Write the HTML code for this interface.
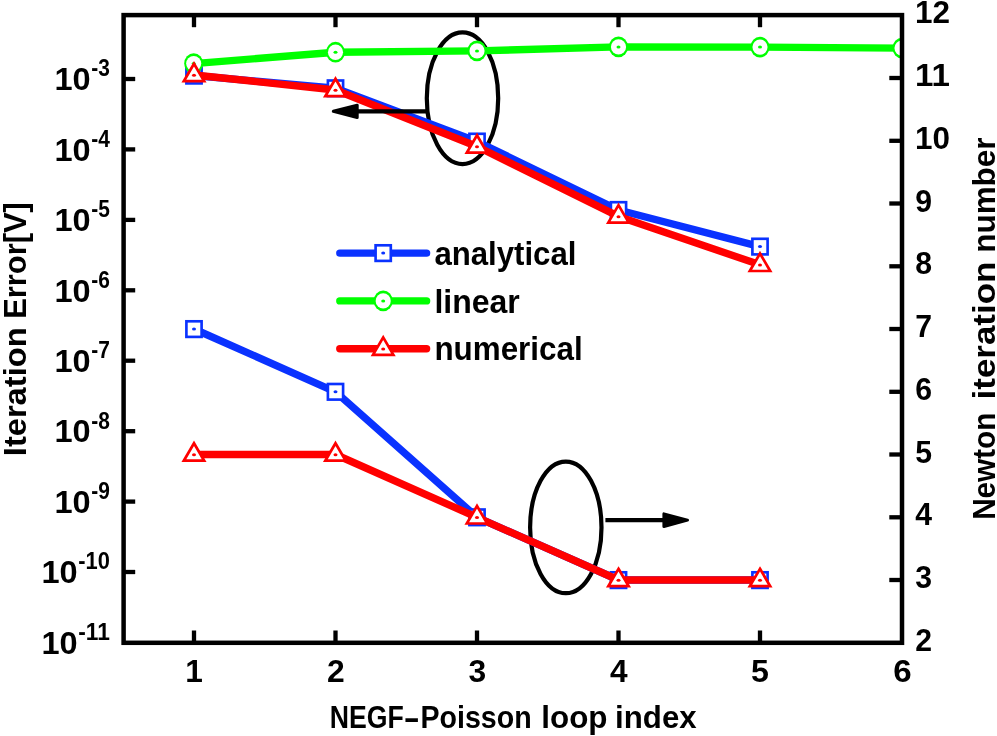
<!DOCTYPE html>
<html lang="en"><head><meta charset="utf-8"><title>Iteration error vs NEGF-Poisson loop index</title>
<style>html,body{margin:0;padding:0;background:#fff}svg{display:block}</style></head>
<body>
<svg width="997" height="736" viewBox="0 0 997 736">
<rect width="997" height="736" fill="#fff"/>
<g fill="none" stroke="#000" stroke-width="4.2">
<ellipse cx="462.5" cy="98.25" rx="35.7" ry="65.85"/>
<ellipse cx="565.8" cy="527.4" rx="35.7" ry="65.8"/>
</g>
<clipPath id="c"><rect x="123.6" y="15.1" width="778.4" height="627.6999999999999"/></clipPath>
<g clip-path="url(#c)">
<polyline points="194.0,75.5 335.5,88.3 477.0,141.5 618.5,210.0 760.0,246.6" fill="none" stroke="#0a32ff" stroke-width="7.4" stroke-linejoin="round" stroke-linecap="butt"/>
<rect x="186.4" y="67.8" width="15.2" height="15.6" fill="#fff" stroke="#0a32ff" stroke-width="2.65"/><ellipse cx="194.0" cy="75.5" rx="2" ry="1.5" fill="#0a32ff"/>
<rect x="327.9" y="80.5" width="15.2" height="15.6" fill="#fff" stroke="#0a32ff" stroke-width="2.65"/><ellipse cx="335.5" cy="88.3" rx="2" ry="1.5" fill="#0a32ff"/>
<rect x="469.4" y="133.8" width="15.2" height="15.6" fill="#fff" stroke="#0a32ff" stroke-width="2.65"/><ellipse cx="477.0" cy="141.5" rx="2" ry="1.5" fill="#0a32ff"/>
<rect x="610.9" y="202.2" width="15.2" height="15.6" fill="#fff" stroke="#0a32ff" stroke-width="2.65"/><ellipse cx="618.5" cy="210.0" rx="2" ry="1.5" fill="#0a32ff"/>
<rect x="752.4" y="238.8" width="15.2" height="15.6" fill="#fff" stroke="#0a32ff" stroke-width="2.65"/><ellipse cx="760.0" cy="246.6" rx="2" ry="1.5" fill="#0a32ff"/>
<polyline points="193.7,63.6 335.5,52.2 477.0,50.9 618.5,46.9 760.0,47.1 902.0,48.1" fill="none" stroke="#00ff00" stroke-width="7.4" stroke-linejoin="round" stroke-linecap="butt"/>
<ellipse cx="193.7" cy="63.6" rx="9.5" ry="10.35" fill="#00ff00"/><ellipse cx="193.7" cy="63.6" rx="7.55" ry="7.7" fill="#fff"/><ellipse cx="193.7" cy="63.6" rx="2" ry="1.5" fill="#00ff00"/>
<ellipse cx="335.5" cy="52.2" rx="9.5" ry="10.35" fill="#00ff00"/><ellipse cx="335.5" cy="52.2" rx="7.55" ry="7.7" fill="#fff"/><ellipse cx="335.5" cy="52.2" rx="2" ry="1.5" fill="#00ff00"/>
<ellipse cx="477.0" cy="50.9" rx="9.5" ry="10.35" fill="#00ff00"/><ellipse cx="477.0" cy="50.9" rx="7.55" ry="7.7" fill="#fff"/><ellipse cx="477.0" cy="50.9" rx="2" ry="1.5" fill="#00ff00"/>
<ellipse cx="618.5" cy="46.9" rx="9.5" ry="10.35" fill="#00ff00"/><ellipse cx="618.5" cy="46.9" rx="7.55" ry="7.7" fill="#fff"/><ellipse cx="618.5" cy="46.9" rx="2" ry="1.5" fill="#00ff00"/>
<ellipse cx="760.0" cy="47.1" rx="9.5" ry="10.35" fill="#00ff00"/><ellipse cx="760.0" cy="47.1" rx="7.55" ry="7.7" fill="#fff"/><ellipse cx="760.0" cy="47.1" rx="2" ry="1.5" fill="#00ff00"/>
<ellipse cx="902.0" cy="48.1" rx="9.5" ry="10.35" fill="#00ff00"/><ellipse cx="902.0" cy="48.1" rx="7.55" ry="7.7" fill="#fff"/><ellipse cx="902.0" cy="48.1" rx="2" ry="1.5" fill="#00ff00"/>
<polyline points="194.0,75.0 335.5,90.0 477.0,146.5 618.5,216.4 760.0,264.8" fill="none" stroke="#ff0000" stroke-width="7.4" stroke-linejoin="round" stroke-linecap="butt"/>
<path d="M194.0,63.7 L204.2,81.2 L183.8,81.2 Z" fill="#fff" stroke="#ff0000" stroke-width="2.7" stroke-linejoin="miter"/><ellipse cx="194.0" cy="75.3" rx="2" ry="1.5" fill="#ff0000"/>
<path d="M335.5,78.7 L345.7,96.2 L325.3,96.2 Z" fill="#fff" stroke="#ff0000" stroke-width="2.7" stroke-linejoin="miter"/><ellipse cx="335.5" cy="90.3" rx="2" ry="1.5" fill="#ff0000"/>
<path d="M477.0,135.2 L487.2,152.7 L466.8,152.7 Z" fill="#fff" stroke="#ff0000" stroke-width="2.7" stroke-linejoin="miter"/><ellipse cx="477.0" cy="146.8" rx="2" ry="1.5" fill="#ff0000"/>
<path d="M618.5,205.1 L628.7,222.6 L608.3,222.6 Z" fill="#fff" stroke="#ff0000" stroke-width="2.7" stroke-linejoin="miter"/><ellipse cx="618.5" cy="216.7" rx="2" ry="1.5" fill="#ff0000"/>
<path d="M760.0,253.5 L770.2,271.0 L749.8,271.0 Z" fill="#fff" stroke="#ff0000" stroke-width="2.7" stroke-linejoin="miter"/><ellipse cx="760.0" cy="265.1" rx="2" ry="1.5" fill="#ff0000"/>
<polyline points="194.0,329.0 335.5,391.8 477.0,517.3 618.5,580.0 760.0,580.0" fill="none" stroke="#0a32ff" stroke-width="7.4" stroke-linejoin="round" stroke-linecap="butt"/>
<rect x="186.4" y="321.3" width="15.2" height="15.6" fill="#fff" stroke="#0a32ff" stroke-width="2.65"/><ellipse cx="194.0" cy="329.0" rx="2" ry="1.5" fill="#0a32ff"/>
<rect x="327.9" y="384.0" width="15.2" height="15.6" fill="#fff" stroke="#0a32ff" stroke-width="2.65"/><ellipse cx="335.5" cy="391.8" rx="2" ry="1.5" fill="#0a32ff"/>
<rect x="469.4" y="509.5" width="15.2" height="15.6" fill="#fff" stroke="#0a32ff" stroke-width="2.65"/><ellipse cx="477.0" cy="517.3" rx="2" ry="1.5" fill="#0a32ff"/>
<rect x="610.9" y="572.3" width="15.2" height="15.6" fill="#fff" stroke="#0a32ff" stroke-width="2.65"/><ellipse cx="618.5" cy="580.0" rx="2" ry="1.5" fill="#0a32ff"/>
<rect x="752.4" y="572.3" width="15.2" height="15.6" fill="#fff" stroke="#0a32ff" stroke-width="2.65"/><ellipse cx="760.0" cy="580.0" rx="2" ry="1.5" fill="#0a32ff"/>
<polyline points="194.0,454.5 335.5,454.5 477.0,517.3 618.5,580.0 760.0,580.0" fill="none" stroke="#ff0000" stroke-width="7.4" stroke-linejoin="round" stroke-linecap="butt"/>
<path d="M194.0,443.2 L204.2,460.7 L183.8,460.7 Z" fill="#fff" stroke="#ff0000" stroke-width="2.7" stroke-linejoin="miter"/><ellipse cx="194.0" cy="454.8" rx="2" ry="1.5" fill="#ff0000"/>
<path d="M335.5,443.2 L345.7,460.7 L325.3,460.7 Z" fill="#fff" stroke="#ff0000" stroke-width="2.7" stroke-linejoin="miter"/><ellipse cx="335.5" cy="454.8" rx="2" ry="1.5" fill="#ff0000"/>
<path d="M477.0,506.0 L487.2,523.5 L466.8,523.5 Z" fill="#fff" stroke="#ff0000" stroke-width="2.7" stroke-linejoin="miter"/><ellipse cx="477.0" cy="517.6" rx="2" ry="1.5" fill="#ff0000"/>
<path d="M618.5,568.8 L628.7,586.2 L608.3,586.2 Z" fill="#fff" stroke="#ff0000" stroke-width="2.7" stroke-linejoin="miter"/><ellipse cx="618.5" cy="580.3" rx="2" ry="1.5" fill="#ff0000"/>
<path d="M760.0,568.8 L770.2,586.2 L749.8,586.2 Z" fill="#fff" stroke="#ff0000" stroke-width="2.7" stroke-linejoin="miter"/><ellipse cx="760.0" cy="580.3" rx="2" ry="1.5" fill="#ff0000"/>
</g>
<g stroke="#000" fill="#000" stroke-linejoin="round">
<line x1="350" y1="111.3" x2="426" y2="111.3" stroke-width="4.3"/>
<path d="M333.3,111.3 L357.2,105.2 L357.2,117.6 Z" stroke-width="3"/>
<line x1="605.4" y1="520.1" x2="670" y2="520.1" stroke-width="4.2"/>
<path d="M687.5,520.1 L663.9,513.9 L663.9,526.5 Z" stroke-width="3"/>
</g>
<rect x="123.6" y="15.1" width="778.4" height="627.6999999999999" fill="none" stroke="#000" stroke-width="4.5"/>
<g stroke="#000" stroke-width="4.3">
<line x1="194.0" y1="15.1" x2="194.0" y2="27.2"/>
<line x1="194.0" y1="642.8" x2="194.0" y2="630.5"/>
<line x1="335.5" y1="15.1" x2="335.5" y2="27.2"/>
<line x1="335.5" y1="642.8" x2="335.5" y2="630.5"/>
<line x1="477.0" y1="15.1" x2="477.0" y2="27.2"/>
<line x1="477.0" y1="642.8" x2="477.0" y2="630.5"/>
<line x1="618.5" y1="15.1" x2="618.5" y2="27.2"/>
<line x1="618.5" y1="642.8" x2="618.5" y2="630.5"/>
<line x1="760.0" y1="15.1" x2="760.0" y2="27.2"/>
<line x1="760.0" y1="642.8" x2="760.0" y2="630.5"/>
<line x1="123.6" y1="79.0" x2="135.2" y2="79.0"/>
<line x1="123.6" y1="149.4" x2="135.2" y2="149.4"/>
<line x1="123.6" y1="219.9" x2="135.2" y2="219.9"/>
<line x1="123.6" y1="290.3" x2="135.2" y2="290.3"/>
<line x1="123.6" y1="360.7" x2="135.2" y2="360.7"/>
<line x1="123.6" y1="431.2" x2="135.2" y2="431.2"/>
<line x1="123.6" y1="501.6" x2="135.2" y2="501.6"/>
<line x1="123.6" y1="572.0" x2="135.2" y2="572.0"/>
<line x1="902.0" y1="580.0" x2="889.3" y2="580.0"/>
<line x1="902.0" y1="517.3" x2="889.3" y2="517.3"/>
<line x1="902.0" y1="454.5" x2="889.3" y2="454.5"/>
<line x1="902.0" y1="391.8" x2="889.3" y2="391.8"/>
<line x1="902.0" y1="329.0" x2="889.3" y2="329.0"/>
<line x1="902.0" y1="266.3" x2="889.3" y2="266.3"/>
<line x1="902.0" y1="203.5" x2="889.3" y2="203.5"/>
<line x1="902.0" y1="140.8" x2="889.3" y2="140.8"/>
<line x1="902.0" y1="78.0" x2="889.3" y2="78.0"/>
</g>
<g font-family="Liberation Sans, Arial, Helvetica, sans-serif" font-weight="bold" font-size="31" fill="#000">
<text x="194.1" y="681.7" text-anchor="middle" textLength="17.6" lengthAdjust="spacingAndGlyphs">1</text>
<text x="335.8" y="681.7" text-anchor="middle" textLength="17.7" lengthAdjust="spacingAndGlyphs">2</text>
<text x="477.4" y="681.7" text-anchor="middle" textLength="17.7" lengthAdjust="spacingAndGlyphs">3</text>
<text x="618.8" y="681.7" text-anchor="middle" textLength="17.6" lengthAdjust="spacingAndGlyphs">4</text>
<text x="759.9" y="681.7" text-anchor="middle" textLength="17.9" lengthAdjust="spacingAndGlyphs">5</text>
<text x="902.5" y="681.7" text-anchor="middle" textLength="18.4" lengthAdjust="spacingAndGlyphs">6</text>
<text x="915.2" y="650.8" textLength="16.8" lengthAdjust="spacingAndGlyphs">2</text>
<text x="915.2" y="588.0" textLength="16.8" lengthAdjust="spacingAndGlyphs">3</text>
<text x="915.2" y="525.3" textLength="16.8" lengthAdjust="spacingAndGlyphs">4</text>
<text x="915.2" y="462.5" textLength="16.8" lengthAdjust="spacingAndGlyphs">5</text>
<text x="915.2" y="399.8" textLength="16.8" lengthAdjust="spacingAndGlyphs">6</text>
<text x="915.2" y="337.0" textLength="16.8" lengthAdjust="spacingAndGlyphs">7</text>
<text x="915.2" y="274.3" textLength="16.8" lengthAdjust="spacingAndGlyphs">8</text>
<text x="915.2" y="211.5" textLength="16.8" lengthAdjust="spacingAndGlyphs">9</text>
<text x="915.0" y="148.8" textLength="35" lengthAdjust="spacingAndGlyphs">10</text>
<text x="915.0" y="86.0" textLength="35" lengthAdjust="spacingAndGlyphs">11</text>
<text x="915.0" y="23.3" textLength="35" lengthAdjust="spacingAndGlyphs">12</text>
<text x="54.5" y="90.2" textLength="36.2" lengthAdjust="spacingAndGlyphs">10</text>
<text x="91.3" y="76.3" font-size="23" textLength="18.6" lengthAdjust="spacingAndGlyphs">-3</text>
<text x="54.5" y="160.6" textLength="36.2" lengthAdjust="spacingAndGlyphs">10</text>
<text x="91.3" y="146.7" font-size="23" textLength="18.6" lengthAdjust="spacingAndGlyphs">-4</text>
<text x="54.5" y="231.1" textLength="36.2" lengthAdjust="spacingAndGlyphs">10</text>
<text x="91.3" y="217.2" font-size="23" textLength="18.6" lengthAdjust="spacingAndGlyphs">-5</text>
<text x="54.5" y="301.5" textLength="36.2" lengthAdjust="spacingAndGlyphs">10</text>
<text x="91.3" y="287.6" font-size="23" textLength="18.6" lengthAdjust="spacingAndGlyphs">-6</text>
<text x="54.5" y="371.9" textLength="36.2" lengthAdjust="spacingAndGlyphs">10</text>
<text x="91.3" y="358.0" font-size="23" textLength="18.6" lengthAdjust="spacingAndGlyphs">-7</text>
<text x="54.5" y="442.4" textLength="36.2" lengthAdjust="spacingAndGlyphs">10</text>
<text x="91.3" y="428.5" font-size="23" textLength="18.6" lengthAdjust="spacingAndGlyphs">-8</text>
<text x="54.5" y="512.8" textLength="36.2" lengthAdjust="spacingAndGlyphs">10</text>
<text x="91.3" y="498.9" font-size="23" textLength="18.6" lengthAdjust="spacingAndGlyphs">-9</text>
<text x="41.5" y="583.2" textLength="36.2" lengthAdjust="spacingAndGlyphs">10</text>
<text x="78.3" y="569.3" font-size="23" textLength="31.6" lengthAdjust="spacingAndGlyphs">-10</text>
<text x="41.5" y="653.6" textLength="36.2" lengthAdjust="spacingAndGlyphs">10</text>
<text x="78.3" y="639.7" font-size="23" textLength="31.6" lengthAdjust="spacingAndGlyphs">-11</text>
<text y="727.8"><tspan x="329.8" textLength="74.0" lengthAdjust="spacingAndGlyphs">NEGF</tspan><tspan x="403.5" textLength="16.4" lengthAdjust="spacingAndGlyphs">-</tspan><tspan x="420.5" textLength="111.2" lengthAdjust="spacingAndGlyphs">Poisson</tspan> <tspan x="541.3" textLength="66.2" lengthAdjust="spacingAndGlyphs">loop</tspan> <tspan x="615.1" textLength="81.5" lengthAdjust="spacingAndGlyphs">index</tspan></text>
<text transform="translate(25.7,456) rotate(-90)"><tspan x="-0.2" textLength="128.8" lengthAdjust="spacingAndGlyphs">Iteration</tspan> <tspan x="137.2" textLength="116.7" lengthAdjust="spacingAndGlyphs">Error[V]</tspan></text>
<text transform="translate(995.4,520) rotate(-90)"><tspan x="0.2" textLength="107.1" lengthAdjust="spacingAndGlyphs">Newton</tspan> <tspan x="120.6" textLength="137.7" lengthAdjust="spacingAndGlyphs">iteration</tspan> <tspan x="267.2" textLength="115.4" lengthAdjust="spacingAndGlyphs">number</tspan></text>
<text x="434.4" y="264.7" font-size="33" textLength="142" lengthAdjust="spacingAndGlyphs">analytical</text>
<text x="434.4" y="312.7" font-size="33" textLength="85.4" lengthAdjust="spacingAndGlyphs">linear</text>
<text x="434.4" y="360.1" font-size="33" textLength="148.3" lengthAdjust="spacingAndGlyphs">numerical</text>
</g>
<line x1="339.8" y1="253.1" x2="426.6" y2="253.1" stroke="#0a32ff" stroke-width="7.4" stroke-linecap="round"/>
<rect x="375.6" y="245.3" width="15.2" height="15.6" fill="#fff" stroke="#0a32ff" stroke-width="2.65"/><ellipse cx="383.2" cy="253.1" rx="2" ry="1.5" fill="#0a32ff"/>
<line x1="339.8" y1="300.9" x2="426.6" y2="300.9" stroke="#00ff00" stroke-width="7.4" stroke-linecap="round"/>
<ellipse cx="383.2" cy="300.9" rx="9.5" ry="10.35" fill="#00ff00"/><ellipse cx="383.2" cy="300.9" rx="7.55" ry="7.7" fill="#fff"/><ellipse cx="383.2" cy="300.9" rx="2" ry="1.5" fill="#00ff00"/>
<line x1="339.8" y1="348.7" x2="426.6" y2="348.7" stroke="#ff0000" stroke-width="7.4" stroke-linecap="round"/>
<path d="M383.2,337.4 L393.4,354.9 L373.0,354.9 Z" fill="#fff" stroke="#ff0000" stroke-width="2.7" stroke-linejoin="miter"/><ellipse cx="383.2" cy="349.0" rx="2" ry="1.5" fill="#ff0000"/>
</svg>
</body></html>
